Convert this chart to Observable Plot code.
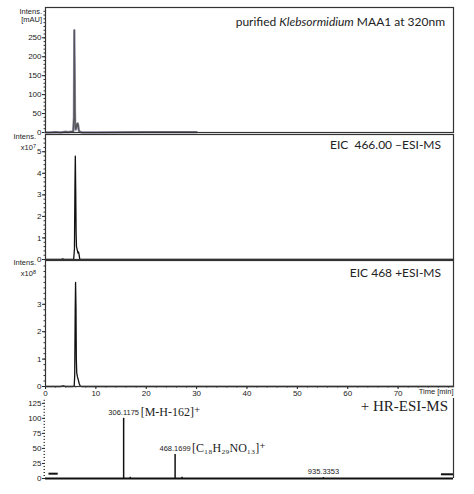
<!DOCTYPE html>
<html><head><meta charset="utf-8">
<script src="https://cdn.jsdelivr.net/npm/d3@7"></script>
<script src="https://cdn.jsdelivr.net/npm/@observablehq/plot@0.6"></script>
<style>
body{margin:0;background:#fff;}
#c{position:relative;width:474px;height:494px;overflow:hidden;}
#c svg{position:absolute;left:0;overflow:visible;background:transparent;}
.lab{position:absolute;font-family:"Liberation Sans",Arial,sans-serif;font-size:7.5px;color:#222;line-height:8px;white-space:nowrap;text-align:right;}
.lab sup{font-size:5.5px;vertical-align:2px;line-height:0;}
.ttl{position:absolute;font-family:Lato,"Noto Sans",sans-serif;font-size:12px;color:#222;white-space:nowrap;}
.ser{position:absolute;font-family:"Liberation Serif","DejaVu Serif",serif;color:#222;white-space:nowrap;}
</style></head><body><div id="c"></div>
<script>
// ---- data ----
const timeMax = 81;
const timeTicks = [0, 10, 20, 30, 40, 50, 60, 70];

const uvTime = [0, 1, 2, 3, 4, 4.5, 5, 5.5, 5.65, 5.72, 5.76, 5.8, 5.84, 5.9, 6.0, 6.1, 6.2, 6.3, 6.4, 6.5, 6.6, 6.8, 7.2, 10, 20, 30];
const uvIntensity = [0, 0, 1, 0, 2, 1, 2, 3, 40, 270, 200, 145, 60, 15, 8, 12, 22, 16, 24, 18, 6, 2, 0, 0, 1, 1];
const uvTicks = [0, 50, 100, 150, 200, 250];

const eic466Time = [0, 3, 3.4, 3.8, 5, 5.6, 5.75, 5.85, 5.92, 6.0, 6.08, 6.15, 6.3, 6.45, 6.55, 6.65, 6.8, 7, 20, 40, 60, 81];
const eic466Intensity = [0, 0, 0.03, 0, 0, 0.02, 0.5, 3.5, 4.8, 3.2, 1.2, 0.6, 0.45, 0.3, 0.35, 0.25, 0.02, 0, 0, 0, 0, 0];
const eic466Ticks = [0, 1, 2, 3, 4, 5];

const eic468Time = [0, 3, 3.5, 4, 5.5, 5.7, 5.8, 5.9, 5.97, 6.05, 6.12, 6.2, 6.35, 6.5, 6.7, 6.9, 7.1, 81];
const eic468Intensity = [0, 0, 0.02, 0, 0, 0.03, 0.4, 2.8, 3.8, 2.9, 1.0, 0.5, 0.35, 0.25, 0.1, 0.02, 0, 0];
const eic468Ticks = [0, 1, 2, 3];

const mzDomain = [60, 1345];
const msMz = [306.1175, 327, 468.1699, 490, 935.3353];
const msRel = [100, 2, 40, 2, 1.5];
const msLabelMz = [306.1175, 468.1699, 935.3353];
const msLabelRel = [100, 40, 1.5];
const msLabelText = ["306.1175", "468.1699", "935.3353"];
const ionMz = [306.1175, 468.1699];
const ionRel = [100, 40];
const ionText = ["[M-H-162]\u207A", "[C\u2081\u2088H\u2082\u2089NO\u2081\u2083]\u207A"];
const msTicks = [0, 25, 50, 75, 100, 125];
const markStart = [71, 1307];
const markEnd = [100, 1345];
const markLevel = [8, 7];

// ---- build ----
const c = document.getElementById("c");
const font = {fontFamily: "Liberation Sans, Arial, sans-serif", fontSize: "8px", color: "#222", background: "transparent"};
function place(svg, top) { svg.style.top = top + "px"; c.appendChild(svg); }

const uv = uvTime.map((t, i) => ({t, v: uvIntensity[i]}));
const e466 = eic466Time.map((t, i) => ({t, v: eic466Intensity[i]}));
const e468 = eic468Time.map((t, i) => ({t, v: eic468Intensity[i]}));
const ms = msMz.map((m, i) => ({m, r: msRel[i]}));
const msLab = msLabelMz.map((m, i) => ({m, r: msLabelRel[i], s: msLabelText[i]}));
const ions = ionMz.map((m, i) => ({m, r: ionRel[i], s: ionText[i]}));
const marks4 = markStart.map((a, i) => ({a, b: markEnd[i], y: markLevel[i]}));

function yAxes(ticks, minorStep, max) {
  return [
    Plot.axisY({ticks, tickSize: 3, tickPadding: 1, stroke: "#222", label: null, tickFormat: d3.format("~g")}),
    Plot.axisY({ticks: d3.range(0, max, minorStep), tickSize: 1.5, text: null, stroke: "#333", label: null})
  ];
}

// panel 1
place(Plot.plot({
  width: 474, height: 140, marginLeft: 45, marginRight: 21, marginTop: 7, marginBottom: 8,
  style: font,
  x: {domain: [0, timeMax], axis: null},
  y: {domain: [0, 330], axis: null},
  marks: [
    ...yAxes(uvTicks, 10, 330),
    Plot.line(uv, {x: "t", y: "v", stroke: "#9393ad", strokeWidth: 2.4}),
    Plot.line(uv, {x: "t", y: "v", stroke: "#555", strokeWidth: 1.2}),
    Plot.frame({stroke: "#333", strokeWidth: 1.2})
  ]
}), 0);

// panel 2
place(Plot.plot({
  width: 474, height: 140, marginLeft: 45, marginRight: 21, marginTop: 8, marginBottom: 7,
  style: font,
  x: {domain: [0, timeMax], axis: null},
  y: {domain: [0, 5.8], axis: null},
  marks: [
    ...yAxes(eic466Ticks, 0.2, 5.8),
    Plot.line(e466, {x: "t", y: "v", stroke: "#111", strokeWidth: 1.3}),
    Plot.frame({stroke: "#333", strokeWidth: 1.2})
  ]
}), 126);

// panel 3
place(Plot.plot({
  width: 474, height: 150, marginLeft: 45, marginRight: 21, marginTop: 8, marginBottom: 16,
  style: font,
  x: {domain: [0, timeMax], axis: null},
  y: {domain: [0, 4.6], axis: null},
  marks: [
    ...yAxes(eic468Ticks, 0.2, 4.6),
    Plot.axisX({ticks: timeTicks, tickSize: 3, tickPadding: 1, stroke: "#222", label: null}),
    Plot.axisX({ticks: d3.range(0, 81, 2), tickSize: 1.5, text: null, stroke: "#333", label: null}),
    Plot.line(e468, {x: "t", y: "v", stroke: "#111", strokeWidth: 1.3}),
    Plot.frame({stroke: "#333", strokeWidth: 1.2}),
    Plot.text(["Time [min]"], {frameAnchor: "bottom-right", textAnchor: "end", dy: 7, fontSize: 7.5})
  ]
}), 252);

// panel 4
place(Plot.plot({
  width: 474, height: 102, marginLeft: 45, marginRight: 21, marginTop: 6, marginBottom: 16,
  style: font,
  x: {domain: mzDomain, axis: null},
  y: {domain: [0, 133], axis: null},
  marks: [
    ...yAxes(msTicks, 5, 133),
    Plot.ruleX(ms, {x: "m", y1: 0, y2: "r", stroke: "#111", strokeWidth: 1.5}),
    Plot.ruleY(marks4, {x1: "a", x2: "b", y: "y", stroke: "#111", strokeWidth: 2}),
    Plot.ruleY([0], {stroke: "#111", strokeWidth: 2}),
    Plot.ruleX([mzDomain[1]], {stroke: "#333", strokeWidth: 1.2}),
    Plot.text(msLab, {x: "m", y: "r", text: "s", dy: -6, fontSize: 7.5}),
    Plot.text(ions, {x: "m", y: "r", text: "s", dx: 17, dy: -6, textAnchor: "start", fontFamily: "Liberation Serif, DejaVu Serif, serif", fontSize: 12})
  ]
}), 392);

// ---- text overlays ----
function add(cls, html, css) {
  const d = document.createElement("div");
  d.className = cls; d.innerHTML = html;
  Object.assign(d.style, css);
  c.appendChild(d);
}
add("lab", "Intens.", {right: "432px", top: "8px"});
add("lab", "[mAU]", {right: "432px", top: "16px"});
add("lab", "Intens.", {right: "438px", top: "133px"});
add("lab", "x10<sup>7</sup>", {right: "438px", top: "144px"});
add("lab", "Intens.", {right: "438px", top: "259px"});
add("lab", "x10<sup>8</sup>", {right: "438px", top: "270px"});
add("ttl", "purified <i>Klebsormidium</i> MAA1 at 320nm", {right: "29px", top: "14px"});
add("ttl", "EIC&nbsp; 466.00 \u2013ESI-MS", {right: "33px", top: "137px"});
add("ttl", "EIC 468 +ESI-MS", {right: "33px", top: "265px"});
add("ser", "+ HR-ESI-MS", {right: "26px", top: "398px", fontSize: "15px"});
</script>
</body></html>
